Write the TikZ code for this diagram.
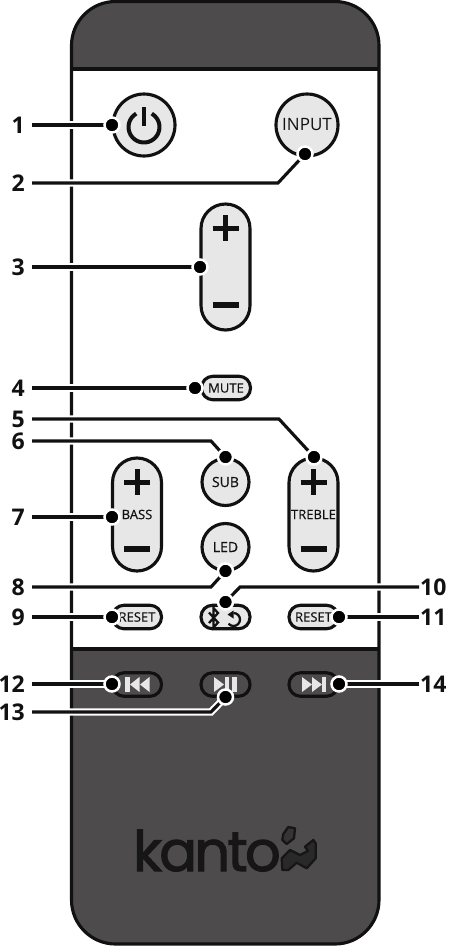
\documentclass[tikz,border=0pt]{standalone}
\usepackage{fontspec}
\setmainfont{Open Sans}
\newfontfamily\keyfont[FakeBold=0.5]{Open Sans}
\newfontfamily\logofont[FakeBold=2, LetterSpace=-5]{Poppins}
\usetikzlibrary{positioning, calc}
\definecolor{mInk}{HTML}{111111}
\definecolor{mBand}{HTML}{4D4B4C}
\definecolor{mKey}{HTML}{E6E7E6}
\definecolor{mLogo}{HTML}{161616}
\pgfdeclarelayer{top}
\pgfsetlayers{main,top}
\tikzset{
  roundkey/.style={circle, draw=mInk, fill=mKey, line width=1.1mm, inner sep=0pt, text=mInk},
  tallkey/.style={rectangle, rounded corners=24.5pt, draw=mInk, fill=mKey, line width=1.1mm,
              minimum width=49pt, inner sep=0pt, text=mInk, font=\keyfont\fontsize{13}{15}\selectfont},
  flatkey/.style={rectangle, rounded corners=11.5pt, draw=mInk, fill=mKey, line width=1.1mm,
              minimum width=49pt, minimum height=23.5pt, inner sep=0pt, text=mInk,
              font=\keyfont\fontsize{13}{15}\selectfont},
  darkkey/.style={flatkey, fill=mBand},
  dot/.style={circle, draw=white, fill=black, line width=2.5pt, minimum size=15pt, inner sep=0pt},
  leader/.style={mInk, line width=1.1mm, preaction={draw=white, line width=2.6mm}},
  numleft/.style={anchor=east, inner xsep=7pt, inner ysep=0pt, text=mInk, font=\fontsize{23}{25}\selectfont\bfseries},
  numright/.style={anchor=west, inner xsep=1pt, inner ysep=0pt, text=mInk, font=\fontsize{23}{25}\selectfont\bfseries},
  glyph/.style={mInk, line width=5pt},
  thinglyph/.style={mInk, line width=0.8mm},
}
\begin{document}
\begin{tikzpicture}[x=1pt,y=-1pt]
  \useasboundingbox (0,0) rectangle (452,946);
  % remote body
  \begin{scope}
    \clip[rounded corners=44pt] (71.5,1.5) rectangle (379,944);
    \fill[white] (71.5,69) rectangle (379,649);
    \fill[mBand] (60,0) rectangle (390,69);
    \fill[mBand] (60,649) rectangle (390,946);
  \end{scope}
  \draw[mInk, line width=1.1mm, rounded corners=44pt] (71.5,1.5) rectangle (379,944);
  \draw[mInk, line width=1.1mm] (71.5,69) -- (379,69);
  \draw[mInk, line width=1.1mm] (71.5,649) -- (379,649);

  % keys
  \node[roundkey, minimum size=62pt] (power) at (144,125) {};
  \node[roundkey, minimum size=62pt, font=\fontsize{17}{20}\selectfont] (input) at (307,125) {INPUT};
  \node[tallkey, minimum height=126pt] (volume) at (225.5,267) {};
  \node[flatkey] (mute) at (226,388) {MUTE};
  \node[roundkey, minimum size=47pt, font=\keyfont\fontsize{14}{16}\selectfont] (sub) at (225.5,482) {SUB};
  \node[roundkey, minimum size=47pt, font=\keyfont\fontsize{14}{16}\selectfont] (led) at (225.5,547) {LED};
  \node[tallkey, minimum height=113pt] (bass) at (137,514.5) {BASS};
  \node[tallkey, minimum height=113pt] (treble) at (313.5,514.5) {TREBLE};
  \node[flatkey] (resetl) at (137,617) {RESET};
  \node[flatkey] (pair) at (225.5,617) {};
  \node[flatkey] (resetr) at (313.5,617) {RESET};
  \node[darkkey] (prev) at (137,684.5) {};
  \node[darkkey] (play) at (225.5,684.5) {};
  \node[darkkey] (next) at (313.5,684.5) {};

  % key symbols
  \draw[glyph, line width=4.5pt] (144,107) -- (144,126);
  \draw[glyph, line width=4pt] (136.25,113.6) arc[start angle=120, end angle=420, radius=15.5pt];
  \foreach \x/\y in {225.5/228, 137/482, 313.5/482}
    \draw[glyph] (\x-13,\y) -- (\x+13,\y) (\x,\y-13) -- (\x,\y+13);
  \foreach \x/\y in {225.5/305, 137/549, 313.5/549}
    \draw[glyph, line width=5.5pt] (\x-13,\y) -- (\x+13,\y);
  \draw[thinglyph, line join=miter] (209,612.5) -- (218,622.5) -- (213.5,627.5) -- (213.5,608) -- (218,613) -- (209,623);
  \draw[thinglyph] (233.5,613) arc[start angle=90, end angle=-140, radius=6.5pt];
  \fill[mInk] (227.5,614.5) -- (233.5,610.5) -- (233.5,618.5) -- cycle;
  \fill[mKey] (125,677) rectangle (129.5,692);
  \fill[mKey] (139.5,677) -- (130,684.5) -- (139.5,692) -- cycle;
  \fill[mKey] (149.5,677) -- (140,684.5) -- (149.5,692) -- cycle;
  \fill[mKey] (214,677) -- (224,684.5) -- (214,692) -- cycle;
  \fill[mKey] (225,677) rectangle (229,692);
  \fill[mKey] (232,677) rectangle (237,692);
  \fill[mKey] (302,677) -- (312,684.5) -- (302,692) -- cycle;
  \fill[mKey] (312,677) -- (322,684.5) -- (312,692) -- cycle;
  \fill[mKey] (322,677) rectangle (326,692);

  % logo
  \node[inner sep=0pt, anchor=base west, text=mLogo, font=\logofont\fontsize{56}{60}\selectfont] (logo) at (133,871) {kanto};
  \draw[mLogo, fill=mBand!70!black, line width=0.8mm, line join=round]
    (288.3,827) -- (295,828.3) -- (294,838.3) -- (286.7,844) -- (282.3,840) -- (283.3,834) -- cycle;
  \draw[mLogo, fill=mBand!55!black, line width=0.8mm, line join=round]
    (313.3,840) -- (315.7,843.3) -- (315.7,858.3) -- (306.7,868.3) -- (296.7,862.7) -- (288.3,870) -- (282.3,870)
    -- (281.7,858.3) -- (290,850) -- (300,855) -- (308,851) -- (305,846.7) -- cycle;

  % callout dots
  \begin{pgfonlayer}{top}
    \foreach \name/\x/\y in {p1/112/125, p2/305/154, p3/200/267, p4/195/388, p5/314/457, p6/225.5/457, p7/112/517,
        p8/225.5/571, p9/112/617, p10/225.5/602, p11/339/617, p12/112/684, p13/225.5/697, p14/339/684}
      \node[dot] (\name) at (\x,\y) {};
  \end{pgfonlayer}

  % numbers
  \foreach \n/\y in {1/125, 2/183, 3/267, 4/388, 5/419, 6/441, 7/517, 8/587, 9/617, 12/684, 13/712}
    \node[numleft] (n\n) at (32,\y) {\n};
  \foreach \n/\y in {10/587, 11/617, 14/684}
    \node[numright] (n\n) at (419,\y) {\n};
  \coordinate (k2) at (278,183);
  \coordinate (k5) at (279,419);
  \coordinate (k6) at (211,441);
  \coordinate (k8) at (211,587);
  \coordinate (k10) at (240,587);
  \coordinate (k13) at (211,712);

  % leaders
  \foreach \n in {1,3,4,7,9,11,12,14}
    \draw[leader] (n\n) -- (p\n.center);
  \foreach \n in {2,5,6,8,10,13}
    \draw[leader] (n\n) -- (k\n) -- (p\n.center);
\end{tikzpicture}
\end{document}
